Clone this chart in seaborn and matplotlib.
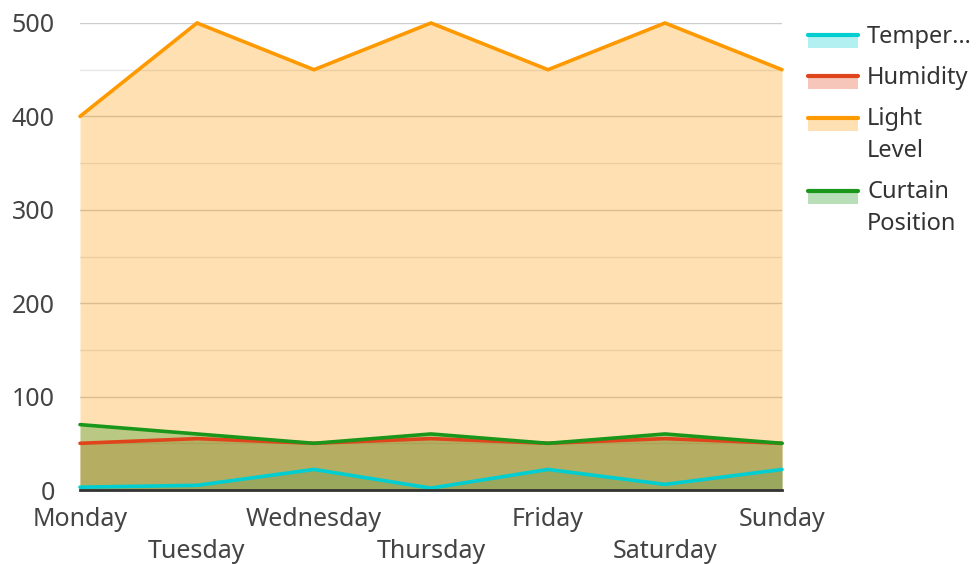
import pandas as pd
import seaborn as sns
import matplotlib.pyplot as plt
from matplotlib.lines import Line2D
from matplotlib.patches import Rectangle
from matplotlib.legend_handler import HandlerBase
from matplotlib.ticker import MultipleLocator

days = ["Monday", "Tuesday", "Wednesday", "Thursday", "Friday", "Saturday", "Sunday"]
temperature = [3, 5, 22, 2, 22, 6, 22]
humidity = [50, 55, 50, 55, 50, 55, 50]
light_level = [400, 500, 450, 500, 450, 500, 450]
curtain_position = [70, 60, 50, 60, 50, 60, 50]

series_names = ["Temperature", "Humidity", "Light Level", "Curtain Position"]
legend_labels = ["Temper…", "Humidity", "Light\nLevel", "Curtain\nPosition"]
colors = ["#00CED1", "#E0441A", "#FF9900", "#1A961A"]

values = [temperature, humidity, light_level, curtain_position]
rows = []
for name, vals in zip(series_names, values):
    for i, (d, v) in enumerate(zip(days, vals)):
        rows.append({"day": d, "idx": i, "series": name, "value": v})
df = pd.DataFrame(rows)

sns.set_style("white")
plt.rcParams["font.family"] = ["Noto Sans", "DejaVu Sans"]

fig = plt.figure(figsize=(9.77, 5.64), dpi=100)
ax = fig.add_axes([80 / 977, 1 - 490 / 564, (782 - 80) / 977, (490 - 23) / 564])

palette = dict(zip(series_names, colors))
for name in series_names:
    sub = df[df["series"] == name]
    ax.fill_between(sub["idx"], 0, sub["value"], color=palette[name], alpha=0.3, linewidth=0, zorder=1)
sns.lineplot(data=df, x="idx", y="value", hue="series", hue_order=series_names,
             palette=palette, linewidth=2.6, legend=False, sort=False, ax=ax, zorder=3)
for ln in ax.lines:
    ln.set_clip_on(False)
    ln.set_solid_joinstyle("miter")

ax.set_xlim(0, 6)
ax.set_ylim(0, 500)
ax.set_xticks(range(len(days)))
ax.set_xticklabels([d if i % 2 == 0 else "\n" + d for i, d in enumerate(days)])
ax.yaxis.set_major_locator(MultipleLocator(100))
ax.yaxis.set_minor_locator(MultipleLocator(50))
ax.grid(axis="y", which="major", color="#cccccc", linewidth=1)
ax.grid(axis="y", which="minor", color="#e6e6e6", linewidth=1)
ax.set_axisbelow(True)
ax.tick_params(axis="both", which="both", length=0, labelsize=18, labelcolor="#444444")
ax.tick_params(axis="y", pad=18)
ax.tick_params(axis="x", pad=12)
for t in ax.get_xticklabels():
    t.set_linespacing(1.4)
ax.set_xlabel("")
ax.set_ylabel("")
for s in ["top", "left", "right"]:
    ax.spines[s].set_visible(False)
ax.spines["bottom"].set_color("#333333")
ax.spines["bottom"].set_linewidth(2)
ax.spines["bottom"].set_zorder(4)


class FillLineHandler(HandlerBase):
    def __init__(self, shift=0.0):
        super().__init__()
        self.shift = shift

    def create_artists(self, legend, orig_handle, xdescent, ydescent, width, height, fontsize, trans):
        c = orig_handle.get_color()
        y0 = -ydescent + self.shift * fontsize
        rect = Rectangle((-xdescent, y0), width, height * 0.8, facecolor=c, alpha=0.3,
                         linewidth=0, transform=trans)
        line = Line2D([-xdescent, -xdescent + width], [y0 + height * 0.8, y0 + height * 0.8],
                      color=c, linewidth=3, transform=trans)
        return [rect, line]


handles = [Line2D([], [], color=c) for c in colors]
shifts = [-0.2, -0.2, 0.55, 0.55]
hmap = {h: FillLineHandler(s) for h, s in zip(handles, shifts)}
leg = fig.legend(handles, legend_labels, handler_map=hmap, loc="upper left",
                 bbox_to_anchor=(808 / 977, 1 - 25 / 564), frameon=False, fontsize=17,
                 handlelength=2.1, handleheight=0.7, handletextpad=0.4, labelspacing=0.72,
                 borderpad=0, borderaxespad=0)
for t in leg.get_texts():
    t.set_color("#333333")
    t.set_linespacing(1.45)

fig.savefig("out.png", dpi=100)
